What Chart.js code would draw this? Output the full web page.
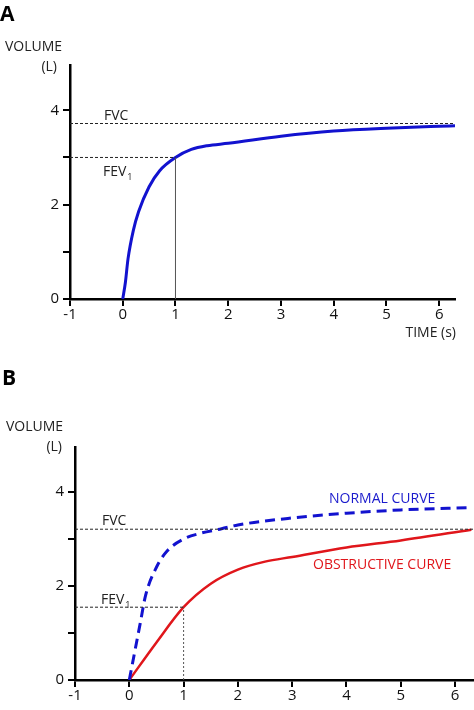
<!DOCTYPE html>
<html>
<head>
<meta charset="utf-8">
<script src="https://cdn.jsdelivr.net/npm/chart.js@4"></script>
<style>
  body { margin: 0; background: #fff; }
  .box { position: absolute; left: 0; width: 474px; }
  #boxA { top: 0; height: 340px; }
  #boxB { top: 360px; height: 350px; }
</style>
</head>
<body>
<div class="box" id="boxA"><canvas id="chartA"></canvas></div>
<div class="box" id="boxB"><canvas id="chartB"></canvas></div>
<script>
// Panel A - normal spirogram
const timeA = [0, 0.05, 0.1, 0.2, 0.3, 0.5, 0.7, 1, 1.3, 1.6, 2, 3, 4, 5, 6, 6.3];
const volA = [0, 0.35, 0.85, 1.45, 1.85, 2.38, 2.72, 3.0, 3.17, 3.25, 3.3, 3.45, 3.56, 3.62, 3.66, 3.67];
const fvcA = 3.72;
const fev1A = 3.0;

// Panel B - normal vs obstructive
const timeNormB = [0, 0.1, 0.2, 0.3, 0.5, 0.7, 1, 1.3, 1.7, 2, 3, 4, 5, 6.3];
const volNormB = [0, 0.6, 1.2, 1.8, 2.4, 2.75, 3.0, 3.12, 3.22, 3.3, 3.45, 3.55, 3.62, 3.67];
const timeObsB = [0, 0.5, 1, 1.5, 2, 2.5, 3, 4, 5, 6.3];
const volObsB = [0, 0.8, 1.55, 2.05, 2.35, 2.52, 2.62, 2.82, 2.97, 3.2];
const fvcB = 3.21;
const fev1B = 1.55;

const xTicks = [-1, 0, 1, 2, 3, 4, 5, 6];
const yTicks = [0, 1, 2, 3, 4];

const FONT = "'Open Sans', sans-serif";

function pts(xs, ys) {
    return xs.map((x, i) => ({ x: x, y: ys[i] }));
}

function refLine(data, dash, color) {
    return { data: data, borderColor: color || "#222", borderWidth: 1, borderDash: dash, pointRadius: 0, showLine: true };
}

function makeScales(xMax, leftW, bottomH) {
    return {
        x: {
            type: "linear", min: -1, max: xMax,
            afterBuildTicks: s => { s.ticks = xTicks.map(v => ({ value: v })); },
            afterFit: s => { s.height = bottomH; },
            grid: { drawOnChartArea: false, tickLength: 7, color: "#000", lineWidth: 2 },
            border: { color: "#000", width: 2.5 },
            ticks: { color: "#111", font: { family: FONT, size: 15 }, padding: 0, maxRotation: 0 }
        },
        y: {
            type: "linear", min: 0, max: 4.96,
            afterBuildTicks: s => { s.ticks = yTicks.map(v => ({ value: v })); },
            afterFit: s => { s.width = leftW; },
            grid: { drawOnChartArea: false, tickLength: 7, color: "#000", lineWidth: 2 },
            border: { color: "#000", width: 2.5 },
            ticks: { color: "#111", font: { family: FONT, size: 15 }, padding: 4,
                     callback: v => (v % 2 === 0 ? v : "") }
        }
    };
}

// draws the text labels at data positions
function textPlugin(items) {
    return {
        id: "labels",
        afterDraw(chart) {
            const c = chart.ctx, xs = chart.scales.x, ys = chart.scales.y;
            c.save();
            items.forEach(t => {
                c.font = (t.bold ? "bold " : "") + t.size + "px " + FONT;
                c.fillStyle = t.color || "#222";
                c.textAlign = t.align || "left";
                c.textBaseline = "alphabetic";
                const px = t.px !== undefined ? t.px : xs.getPixelForValue(t.x);
                const py = t.py !== undefined ? t.py : ys.getPixelForValue(t.y);
                c.fillText(t.text, px, py);
                if (t.sub) {
                    const w = c.measureText(t.text).width;
                    c.font = "9px " + FONT;
                    c.fillText(t.sub, px + w + 1, py + 4);
                }
            });
            c.restore();
        }
    };
}

new Chart(document.getElementById("chartA"), {
    type: "scatter",
    data: {
        datasets: [
            refLine([{ x: -1, y: fvcA }, { x: 6.3, y: fvcA }], [3, 2]),
            refLine([{ x: -1, y: fev1A }, { x: 1, y: fev1A }], [3, 2]),
            refLine([{ x: 1, y: 0 }, { x: 1, y: fev1A }], [], "#555"),
            { data: pts(timeA, volA), borderColor: "#1212cf", borderWidth: 3, pointRadius: 0,
              showLine: true, cubicInterpolationMode: "monotone" }
        ]
    },
    options: {
        responsive: true, maintainAspectRatio: false, animation: false,
        layout: { padding: { top: 65, right: 19, left: 0, bottom: 0 } },
        plugins: { legend: { display: false }, tooltip: { enabled: false } },
        scales: makeScales(6.3, 70, 41)
    },
    plugins: [textPlugin([
        { text: "A", px: 0, py: 21, size: 21, bold: true, color: "#000" },
        { text: "VOLUME", px: 5, py: 51, size: 14 },
        { text: "(L)", px: 57, py: 71, size: 14, align: "right" },
        { text: "FVC", px: 104, py: 120, size: 14 },
        { text: "FEV", sub: "1", px: 103, py: 176, size: 14 },
        { text: "TIME (s)", px: 456, py: 337, size: 14, align: "right" }
    ])]
});

new Chart(document.getElementById("chartB"), {
    type: "scatter",
    data: {
        datasets: [
            refLine([{ x: -1, y: fvcB }, { x: 6.33, y: fvcB }], [3, 2]),
            refLine([{ x: -1, y: fev1B }, { x: 1, y: fev1B }], [3, 2]),
            refLine([{ x: 1, y: 0 }, { x: 1, y: fev1B }], [2, 2], "#555"),
            { data: pts(timeNormB, volNormB), borderColor: "#1212cf", borderWidth: 3, borderDash: [10, 6],
              pointRadius: 0, showLine: true, cubicInterpolationMode: "monotone" },
            { data: pts(timeObsB, volObsB), borderColor: "#e0161b", borderWidth: 2.5, pointRadius: 0,
              showLine: true, cubicInterpolationMode: "monotone" }
        ]
    },
    options: {
        responsive: true, maintainAspectRatio: false, animation: false,
        layout: { padding: { top: 87, right: 1, left: 0, bottom: 0 } },
        plugins: { legend: { display: false }, tooltip: { enabled: false } },
        scales: makeScales(6.33, 75, 30)
    },
    plugins: [textPlugin([
        { text: "B", px: 2, py: 25, size: 21, bold: true, color: "#000" },
        { text: "VOLUME", px: 6, py: 71, size: 14 },
        { text: "(L)", px: 62, py: 91, size: 14, align: "right" },
        { text: "FVC", px: 102, py: 165, size: 14 },
        { text: "FEV", sub: "1", px: 101, py: 244, size: 14 },
        { text: "NORMAL CURVE", px: 329, py: 143, size: 14, color: "#1a1acc" },
        { text: "OBSTRUCTIVE CURVE", px: 313, py: 209, size: 14, color: "#e0161b" }
    ])]
});
</script>
</body>
</html>
